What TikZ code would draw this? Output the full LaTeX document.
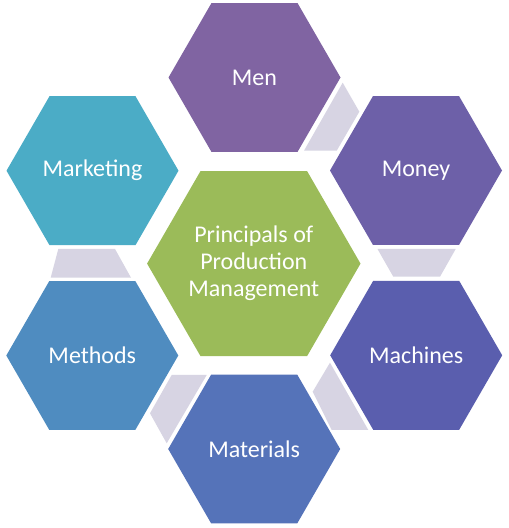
\documentclass[tikz,border=0pt]{standalone}
\usepackage{fontspec}
\setmainfont{Carlito}
\usetikzlibrary{shapes.geometric}
\begin{document}
\begin{tikzpicture}[x=1pt,y=1pt,
  hexa/.style={regular polygon,regular polygon sides=6,minimum size=172pt,
    inner sep=0pt,outer sep=0pt,text=white,align=center,
    font=\fontsize{24}{27}\selectfont},
  link/.style={fill=linkColor}]
\definecolor{fillColor}{RGB}{255,255,255}
\definecolor{linkColor}{RGB}{215,212,227}
\definecolor{menColor}{RGB}{128,100,162}
\definecolor{moneyColor}{RGB}{109,96,168}
\definecolor{machinesColor}{RGB}{90,94,174}
\definecolor{materialsColor}{RGB}{85,115,185}
\definecolor{methodsColor}{RGB}{79,140,192}
\definecolor{marketingColor}{RGB}{75,172,198}
\definecolor{coreColor}{RGB}{155,187,89}
\path[use as bounding box,fill=fillColor] (0,0) rectangle (509,528);

% links between the outer hexagons
\path[link] (342.7,445.3) -- (359.3,416.3) -- (336.7,377.3) -- (304.0,377.3) -- cycle;
\path[link] (377.5,279.0) -- (455.7,279.0) -- (440.0,251.3) -- (393.3,251.3) -- cycle;
\path[link] (330.0,165.3) -- (368.3,98.0) -- (331.7,98.0) -- (312.7,136.3) -- cycle;
\path[link] (171.7,153.0) -- (206.7,153.0) -- (166.7,84.7) -- (150.0,114.7) -- cycle;
\path[link] (58.3,279.0) -- (115.0,279.0) -- (131.0,250.3) -- (50.7,250.3) -- cycle;

% hexagons
\node[hexa,fill=coreColor,minimum size=211pt] (core) at (253.8,264.4) {Principals of\\Production\\Management};
\node[hexa,fill=menColor] (men) at (254.5,450.5) {Men};
\node[hexa,fill=moneyColor] (money) at (416.0,357.5) {Money};
\node[hexa,fill=machinesColor] (machines) at (416.2,172.7) {Machines};
\node[hexa,fill=materialsColor] (materials) at (254.2,79.0) {Materials};
\node[hexa,fill=methodsColor] (methods) at (92.3,172.5) {Methods};
\node[hexa,fill=marketingColor] (marketing) at (92.5,357.3) {Marketing};
\end{tikzpicture}
\end{document}
